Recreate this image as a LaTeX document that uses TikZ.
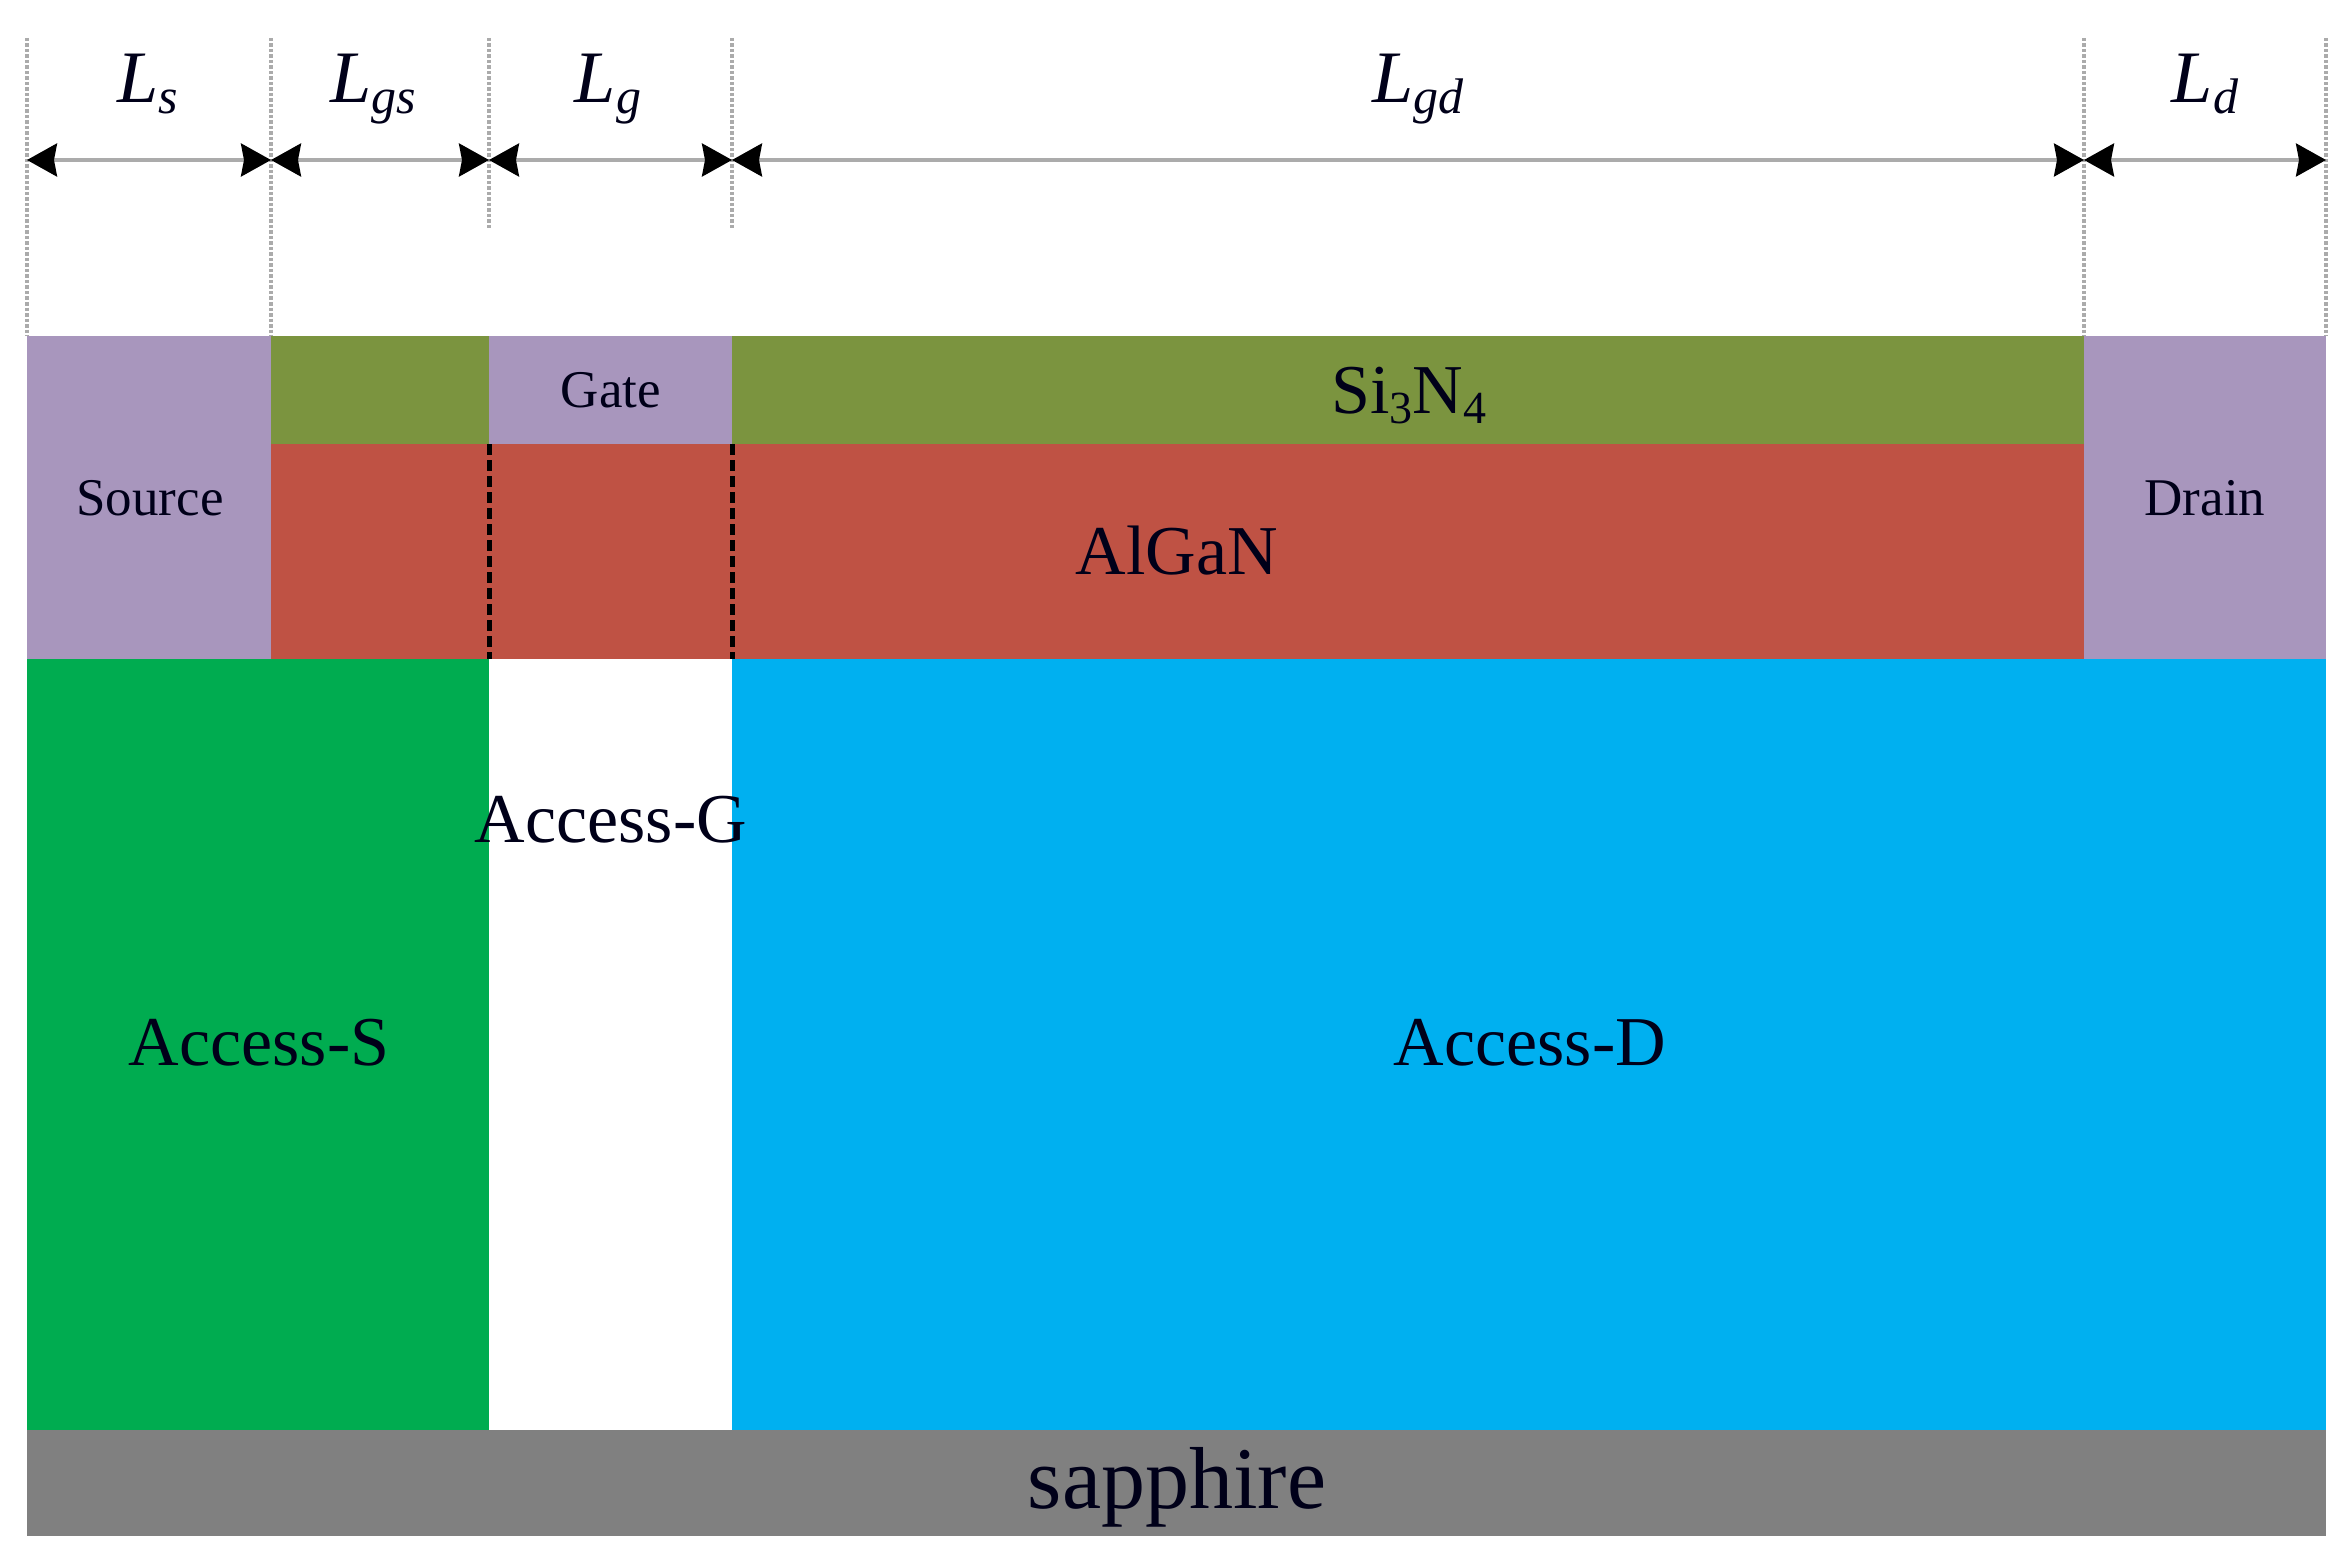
\documentclass[tikz,border=0pt]{standalone}
\usepackage{fontspec}
\setmainfont{Liberation Serif}
\usetikzlibrary{arrows.meta}
\definecolor{metal}{HTML}{A896BD}
\definecolor{nitride}{HTML}{7B943F}
\definecolor{algan}{HTML}{BF5244}
\definecolor{accessS}{HTML}{00AC50}
\definecolor{accessD}{HTML}{00B0F0}
\definecolor{substrate}{HTML}{808080}
\definecolor{guide}{HTML}{ABABAB}
\newcommand{\fsize}[1]{\fontsize{#1}{#1}\selectfont}
\newcommand{\lenlabel}[1]{\fsize{74}\itshape L\raisebox{-11pt}{\fsize{50}#1}}
\begin{document}
\begin{tikzpicture}[x=1pt, y=-1pt, text=black!90!blue, inner sep=0pt,
        region/.style={anchor=base, font=\fsize{70}},
        contact/.style={anchor=base, font=\fsize{53}},
        lenmark/.style={anchor=base},
        guideline/.style={guide, line width=3.5pt, dotted},
        span/.style={guide, line width=3.5pt, {Stealth[length=30pt, width=33pt, inset=3pt, black]}-{Stealth[length=30pt, width=33pt, inset=3pt, black]}}]
        \useasboundingbox (0,0) rectangle (2347,1562);
        % layers
        \fill[metal] (27,336) rectangle (271,659);
        \fill[metal] (489,336) rectangle (732,444);
        \fill[metal] (2084,336) rectangle (2326,659);
        \fill[nitride] (271,336) rectangle (489,444);
        \fill[nitride] (732,336) rectangle (2084,444);
        \fill[algan] (271,444) rectangle (2084,659);
        \fill[accessS] (27,659) rectangle (489,1430);
        \fill[accessD] (732,659) rectangle (2326,1430);
        \fill[substrate] (27,1430) rectangle (2326,1536);
        % channel boundaries
        \draw[black, line width=5pt, dash pattern=on 11pt off 5pt] (489,444)--(489,659);
        \draw[black, line width=5pt, dash pattern=on 11pt off 5pt] (732,444)--(732,659);
        % guides
        \foreach \xpos/\yend/\tick in {27/336/a, 271/336/b, 489/230/c, 732/230/d, 2084/336/e, 2326/336/f}{
                \draw[guideline] (\xpos,38)--(\xpos,\yend);
                \coordinate (\tick) at (\xpos,160);
        }
        % spans
        \foreach \tick [remember=\tick as \last (initially a)] in {b,c,d,e,f}{
                \draw[span] (\last)--(\tick);
        }
        \node[lenmark] (ls) at (148,103) {\lenlabel{s}};
        \node[lenmark] (lgs) at (373,103) {\lenlabel{gs}};
        \node[lenmark] (lg) at (608,103) {\lenlabel{g}};
        \node[lenmark] (lgd) at (1418,103) {\lenlabel{gd}};
        \node[lenmark] (ld) at (2205,103) {\lenlabel{d}};
        \node[contact] (source) at (150,515) {Source};
        \node[contact] (gate) at (611,407) {Gate};
        \node[contact] (drain) at (2205,515) {Drain};
        \node[region] (sin) at (1409,413) {Si\raisebox{-10pt}{\fsize{46}3}N\raisebox{-10pt}{\fsize{46}4}};
        \node[region] (algan) at (1177,574) {AlGaN};
        \node[region] (accg) at (611,842) {Access-G};
        \node[region] (accs) at (259,1065) {Access-S};
        \node[region] (accd) at (1530,1065) {Access-D};
        \node[region, font=\fsize{88}] (sapphire) at (1177,1508) {sapphire};
\end{tikzpicture}
\end{document}
